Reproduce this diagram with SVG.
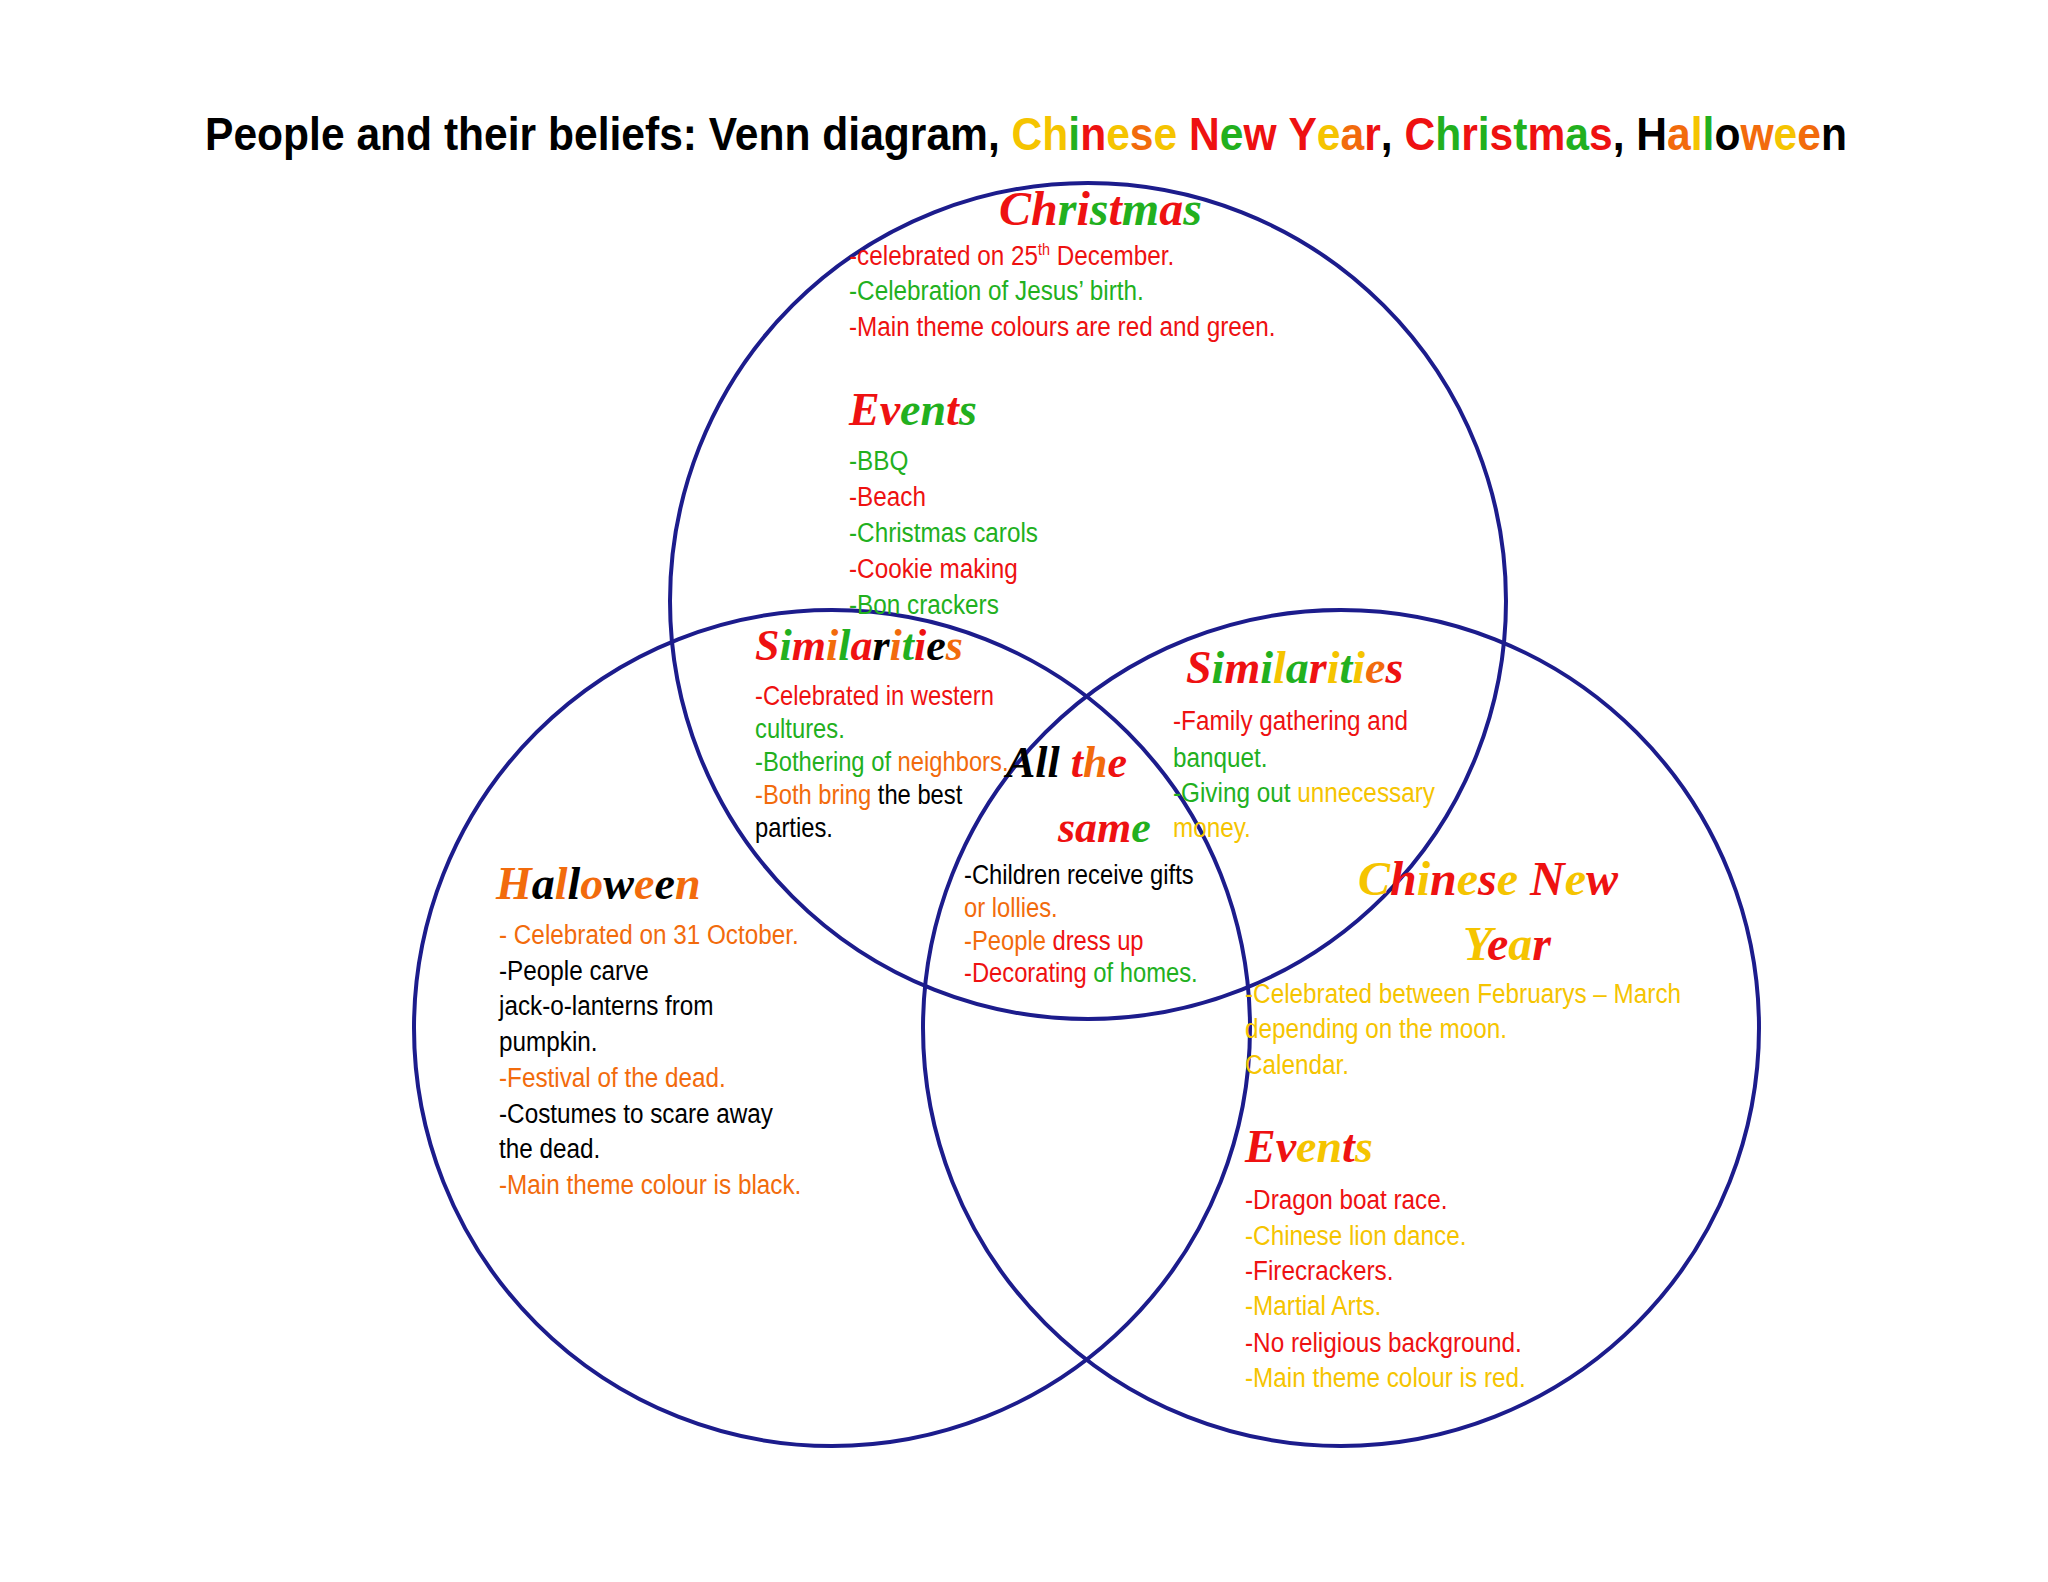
<svg xmlns="http://www.w3.org/2000/svg" width="2048" height="1582" viewBox="0 0 2048 1582">
<style>
.t{font-family:"Liberation Sans",Arial,sans-serif;font-size:27px}
.s{font-family:"Liberation Serif",serif;font-style:italic;font-weight:bold}
.r{fill:#ee1111}.g{fill:#22b01e}.o{fill:#f26b0c}.y{fill:#f5c400}.k{fill:#000}
.c{fill:none;stroke:#1c1c8c;stroke-width:4}
</style>
<rect width="2048" height="1582" fill="#fff"/>
<text transform="translate(205,150) scale(0.906,1)" font-family="Liberation Sans,Arial,sans-serif" font-weight="bold" font-size="47">People and their beliefs: Venn diagram, <tspan class="y">Ch</tspan><tspan class="g">i</tspan><tspan class="r">n</tspan><tspan class="y">e</tspan><tspan class="o">s</tspan><tspan class="y">e</tspan> <tspan class="r">N</tspan><tspan class="g">e</tspan><tspan class="r">w</tspan> <tspan class="r">Y</tspan><tspan class="y">e</tspan><tspan class="o">a</tspan><tspan class="r">r</tspan>, <tspan class="r">C</tspan><tspan class="g">h</tspan><tspan class="r">r</tspan><tspan class="g">i</tspan><tspan class="r">s</tspan><tspan class="g">t</tspan><tspan class="r">m</tspan><tspan class="g">a</tspan><tspan class="r">s</tspan>, H<tspan class="o">a</tspan><tspan class="y">l</tspan><tspan class="g">l</tspan>o<tspan class="o">w</tspan><tspan class="y">e</tspan><tspan class="o">e</tspan>n</text>
<g id="circles">
<circle id="christmas-circle" class="c" cx="1088" cy="601" r="418"/>
<circle id="halloween-circle" class="c" cx="832" cy="1028" r="418"/>
<circle id="cny-circle" class="c" cx="1341" cy="1028" r="418"/>
</g>
<g id="christmas">
<text class="s" x="999" y="225" font-size="48"><tspan class="r">C</tspan><tspan class="r">h</tspan><tspan class="g">r</tspan><tspan class="r">i</tspan><tspan class="g">s</tspan><tspan class="r">t</tspan><tspan class="g">m</tspan><tspan class="r">a</tspan><tspan class="g">s</tspan></text>
<text class="t" transform="translate(849,265) scale(0.9,1)"><tspan class="r" x="0">-celebrated on 25<tspan font-size="16" dy="-10">th</tspan><tspan dy="10"> December.</tspan></tspan><tspan class="g" x="0" dy="35">-Celebration of Jesus’ birth.</tspan><tspan class="r" x="0" dy="36">-Main theme colours are red and green.</tspan></text>
<text class="s" x="849" y="425" font-size="46"><tspan class="r">Ev</tspan><tspan class="g">en</tspan><tspan class="r">t</tspan><tspan class="g">s</tspan></text>
<text class="t" transform="translate(849,470) scale(0.9,1)"><tspan class="g" x="0">-BBQ</tspan><tspan class="r" x="0" dy="36">-Beach</tspan><tspan class="g" x="0" dy="36">-Christmas carols</tspan><tspan class="r" x="0" dy="36">-Cookie making</tspan><tspan class="g" x="0" dy="36">-Bon crackers</tspan></text>
</g>
<g id="similarities-left">
<text class="s" x="755" y="660" font-size="44"><tspan class="r">S</tspan><tspan class="g">i</tspan><tspan class="r">m</tspan><tspan class="o">i</tspan><tspan class="g">l</tspan><tspan class="r">a</tspan><tspan class="k">r</tspan><tspan class="o">i</tspan><tspan class="g">t</tspan><tspan class="r">i</tspan><tspan class="k">e</tspan><tspan class="o">s</tspan></text>
<text class="t" font-size="26" transform="translate(755,705) scale(0.88,1)"><tspan class="r" x="0">-Celebrated in western</tspan><tspan class="g" x="0" dy="33">cultures.</tspan><tspan x="0" dy="33"><tspan class="g">-Bothering of </tspan><tspan class="o">neighbors.</tspan></tspan><tspan x="0" dy="33"><tspan class="o">-Both bring </tspan><tspan class="k">the best</tspan></tspan><tspan class="k" x="0" dy="33">parties.</tspan></text>
</g>
<g id="similarities-right">
<text class="s" x="1186" y="683" font-size="46"><tspan class="r">S</tspan><tspan class="g">i</tspan><tspan class="r">m</tspan><tspan class="g">i</tspan><tspan class="y">l</tspan><tspan class="g">a</tspan><tspan class="r">r</tspan><tspan class="y">i</tspan><tspan class="g">t</tspan><tspan class="y">i</tspan><tspan class="o">e</tspan><tspan class="r">s</tspan></text>
<text class="t" transform="translate(1173,730) scale(0.9,1)"><tspan class="r" x="0">-Family gathering and</tspan><tspan class="g" x="0" dy="37">banquet.</tspan><tspan x="0" dy="35"><tspan class="g">-Giving out </tspan><tspan class="y">unnecessary</tspan></tspan><tspan class="y" x="0" dy="35">money.</tspan></text>
</g>
<g id="all-the-same">
<text class="s" x="1006" y="777" font-size="44"><tspan class="k">All </tspan><tspan class="r">t</tspan><tspan class="o">h</tspan><tspan class="r">e</tspan></text>
<text class="s" x="1058" y="842" font-size="44"><tspan class="r">sam</tspan><tspan class="g">e</tspan></text>
<text class="t" font-size="25" transform="translate(964,884) scale(0.88,1)"><tspan class="k" x="0">-Children receive gifts</tspan><tspan class="o" x="0" dy="33">or lollies.</tspan><tspan x="0" dy="33"><tspan class="o">-People </tspan><tspan class="r">dress up</tspan></tspan><tspan x="0" dy="32"><tspan class="r">-Decorating </tspan><tspan class="g">of homes.</tspan></tspan></text>
</g>
<g id="halloween">
<text class="s" x="496" y="899" font-size="46"><tspan class="o">H</tspan><tspan class="k">a</tspan><tspan class="o">l</tspan><tspan class="k">l</tspan><tspan class="o">o</tspan><tspan class="k">w</tspan><tspan class="o">e</tspan><tspan class="k">e</tspan><tspan class="o">n</tspan></text>
<text class="t" transform="translate(499,944) scale(0.9,1)"><tspan class="o" x="0">- Celebrated on 31 October.</tspan><tspan class="k" x="0" dy="36">-People carve</tspan><tspan class="k" x="0" dy="35">jack-o-lanterns from</tspan><tspan class="k" x="0" dy="36">pumpkin.</tspan><tspan class="o" x="0" dy="36">-Festival of the dead.</tspan><tspan class="k" x="0" dy="36">-Costumes to scare away</tspan><tspan class="k" x="0" dy="35">the dead.</tspan><tspan class="o" x="0" dy="36">-Main theme colour is black.</tspan></text>
</g>
<g id="chinese-new-year">
<text class="s" x="1358" y="895" font-size="48"><tspan class="y">C</tspan><tspan class="r">h</tspan><tspan class="y">i</tspan><tspan class="r">n</tspan><tspan class="y">e</tspan><tspan class="r">s</tspan><tspan class="y">e</tspan> <tspan class="r">N</tspan><tspan class="y">e</tspan><tspan class="r">w</tspan></text>
<text class="s" x="1463" y="960" font-size="48"><tspan class="y">Y</tspan><tspan class="r">e</tspan><tspan class="y">a</tspan><tspan class="r">r</tspan></text>
<text class="t y" transform="translate(1245,1003) scale(0.9,1)"><tspan x="0">-Celebrated between Februarys – March</tspan><tspan x="0" dy="35">depending on the moon.</tspan><tspan x="0" dy="36">Calendar.</tspan></text>
<text class="s" x="1245" y="1162" font-size="46"><tspan class="r">Ev</tspan><tspan class="y">en</tspan><tspan class="r">t</tspan><tspan class="y">s</tspan></text>
<text class="t" transform="translate(1245,1209) scale(0.9,1)"><tspan class="r" x="0">-Dragon boat race.</tspan><tspan class="y" x="0" dy="36">-Chinese lion dance.</tspan><tspan class="r" x="0" dy="35">-Firecrackers.</tspan><tspan class="y" x="0" dy="35">-Martial Arts.</tspan><tspan class="r" x="0" dy="37">-No religious background.</tspan><tspan class="y" x="0" dy="35">-Main theme colour is red.</tspan></text>
</g>
</svg>
